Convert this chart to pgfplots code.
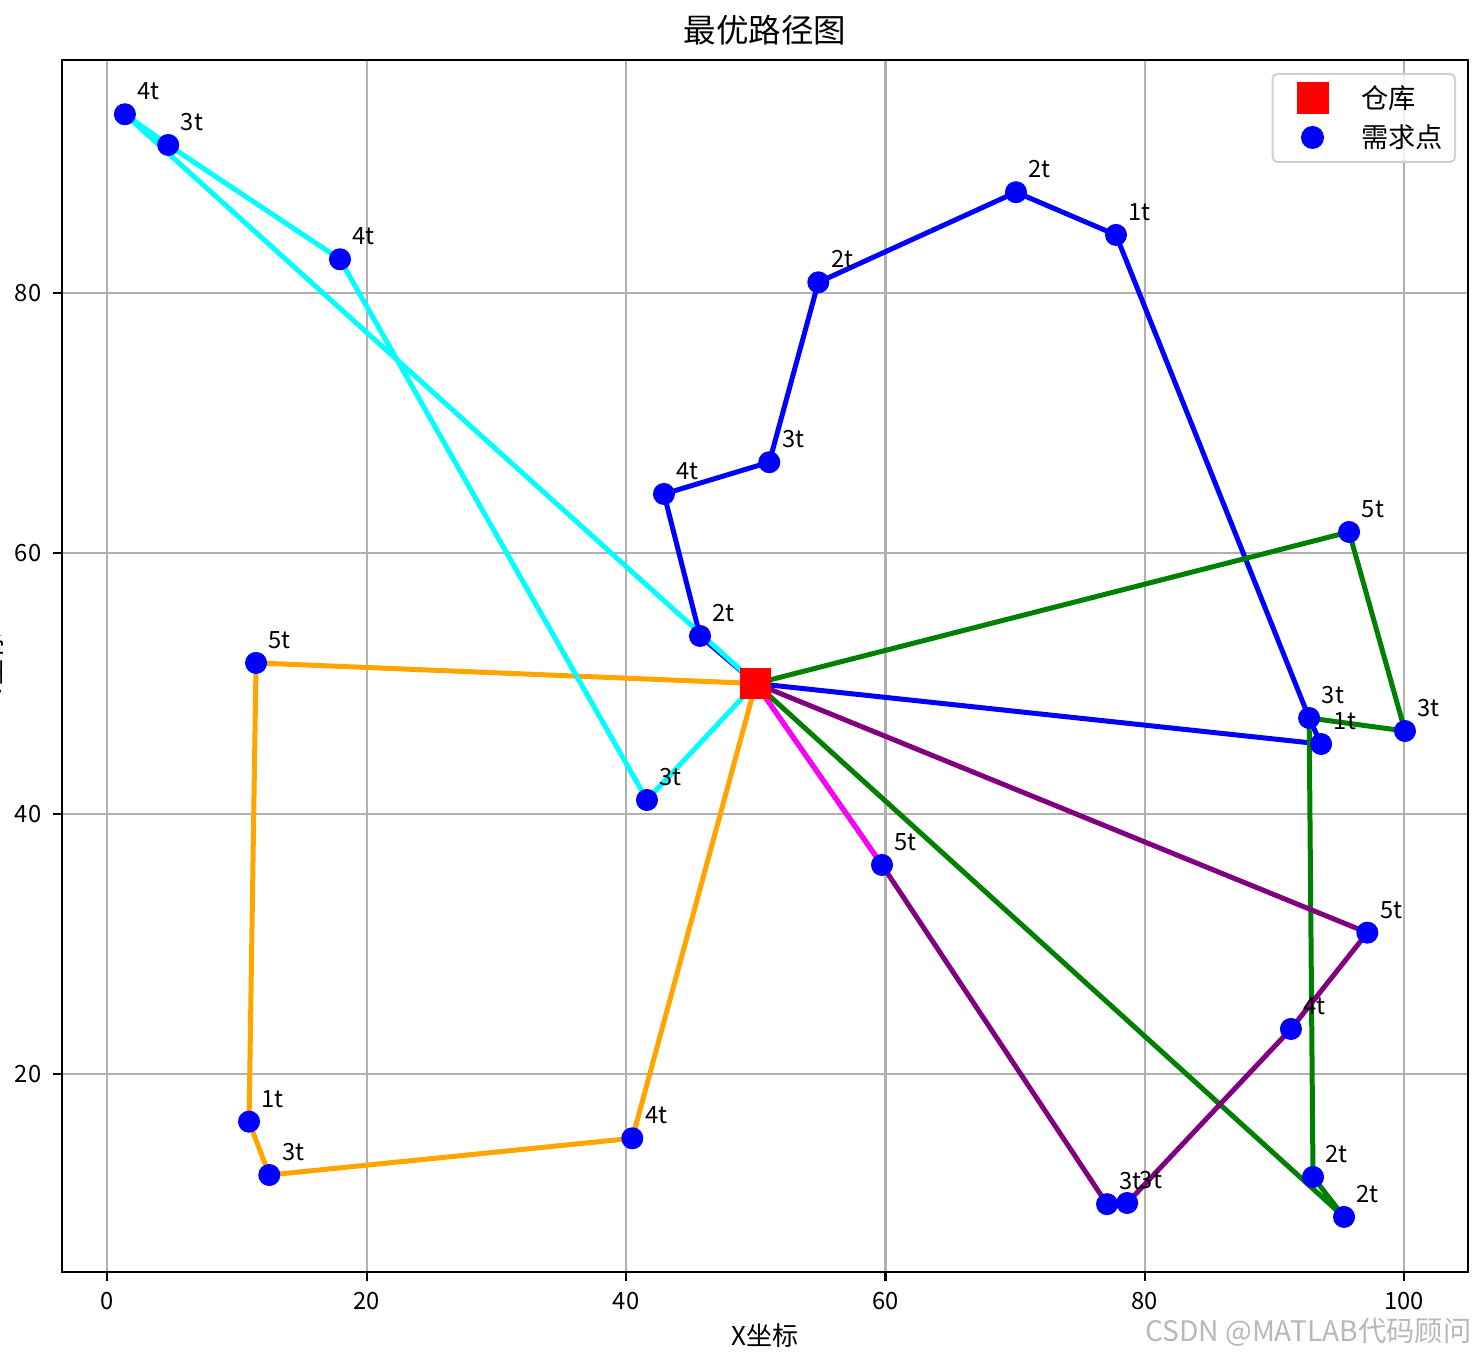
\documentclass[border=0pt]{standalone}
\usepackage{fontspec}
\setmainfont{Noto Sans CJK SC}
\usepackage{pgfplots}
\usepackage{pgfplotstable}
\pgfplotsset{compat=1.18}
\definecolor{mblue}{HTML}{0000FF}
\definecolor{mgreen}{HTML}{008000}
\definecolor{morange}{HTML}{FFA500}
\definecolor{mpurple}{HTML}{800080}
\definecolor{mcyan}{HTML}{00FFFF}
\definecolor{mmagenta}{HTML}{FF00FF}
\definecolor{mred}{HTML}{FF0000}
\definecolor{mgrid}{HTML}{B0B0B0}

\pgfplotstableread{
x y lab
1.36 93.73 4t
4.70 91.37 3t
17.94 82.59 4t
70.06 87.74 2t
77.77 84.46 1t
54.82 80.82 2t
51.04 67.00 3t
42.92 64.56 4t
95.74 61.64 5t
45.70 53.65 2t
11.47 51.58 5t
92.66 47.35 3t
100.05 46.35 3t
93.58 45.35 1t
41.61 41.05 3t
59.73 36.06 5t
97.15 30.86 5t
91.26 23.46 4t
10.93 16.34 1t
12.49 12.24 3t
40.48 15.06 4t
92.96 12.09 2t
95.35 9.02 2t
77.08 10.00 3t
78.63 10.09 3t
}\demand

\begin{document}
\begin{tikzpicture}
\path[use as bounding box] (-24.8pt,-33.6pt) rectangle (565.6pt,508.8pt);
\begin{axis}[
  at={(0,0)}, anchor=south west,
  scale only axis, width=562.4pt, height=484.8pt,
  xmin=-3.49, xmax=104.91, ymin=4.79, ymax=97.9,
  clip=false,
  axis line style={black, line width=0.85pt},
  xtick={0,20,40,60,80,100}, ytick={20,40,60,80},
  xtick pos=bottom, ytick pos=left,
  tick align=outside, major tick length=3.7pt,
  tick style={black, line width=0.85pt},
  grid=major, major grid style={mgrid, line width=0.85pt},
  /pgf/number format/assume math mode=true,
  tick label style={font=\fontsize{9.5}{11}\selectfont},
  xticklabel style={anchor=north, inner sep=0pt, yshift=-4.3pt},
  yticklabel style={anchor=east, inner sep=0pt, xshift=-4.4pt},
  title={最优路径图},
  title style={at={(axis description cs:0.5,1)}, anchor=base, inner sep=0pt, yshift=1pt, font=\fontsize{13}{15}\selectfont},
  xlabel={X坐标},
  xlabel style={at={(axis description cs:0.5,0)}, anchor=center, inner sep=0pt, yshift=-25.6pt, font=\fontsize{10.4}{12}\selectfont},
  ylabel={Y坐标},
  ylabel style={at={(axis description cs:0,0.5)}, anchor=south, inner sep=0pt, yshift=23pt, font=\fontsize{10.4}{12}\selectfont},
  legend cell align=left,
  legend style={at={(axis description cs:1,1)}, anchor=north east, xshift=-4.8pt, yshift=-5.2pt,
    draw=black!18, line width=0.8pt, rounded corners=2pt, fill=white, fill opacity=0.8, text opacity=1,
    inner xsep=4.8pt, inner ysep=2pt, row sep=0pt, column sep=0pt,
    nodes={inner sep=0pt},
    font=\fontsize{10.9}{12.5}\selectfont},
  legend image code/.code={\path[draw=none, fill=none] (-11.2pt,-7.8pt) rectangle (19.5pt,7.8pt); \draw[#1, sharp corners, fill opacity=1, draw opacity=1] plot coordinates {(0pt,0pt)};},
]
\addplot[only marks, mark=square*, mark size=6pt, color=mred, mark options={draw=none, fill=mred}] coordinates {(50,50)};
\addlegendentry{仓库}
\addplot[only marks, mark=*, mark size=4.2pt, color=mblue, mark options={draw=none, fill=mblue}] table[x=x, y=y] {\demand};
\addlegendentry{需求点}

\addplot[forget plot, mblue, line width=2pt, line join=round] coordinates {
(50,50) (45.70,53.65) (42.92,64.56) (51.04,67.00) (54.82,80.82) (70.06,87.74) (77.77,84.46) (92.66,47.35) (93.58,45.35) (50,50)};
\addplot[forget plot, mgreen, line width=2pt, line join=round] coordinates {
(50,50) (95.74,61.64) (100.05,46.35) (92.66,47.35) (92.96,12.09) (95.35,9.02) (50,50)};
\addplot[forget plot, morange, line width=2pt, line join=round] coordinates {
(50,50) (11.47,51.58) (10.93,16.34) (12.49,12.24) (40.48,15.06) (50,50)};
\addplot[forget plot, mpurple, line width=2pt, line join=round] coordinates {
(50,50) (59.73,36.06) (77.08,10.00) (78.63,10.09) (91.26,23.46) (97.15,30.86) (50,50)};
\addplot[forget plot, mcyan, line width=2pt, line join=round] coordinates {
(50,50) (41.61,41.05) (17.94,82.59) (4.70,91.37) (1.36,93.73) (50,50)};
\addplot[forget plot, mmagenta, line width=2pt, line join=round] coordinates {
(50,50) (59.73,36.06) (50,50)};

\addplot[forget plot, only marks, mark=none, nodes near coords, point meta=explicit symbolic,
  nodes near coords style={anchor=base west, inner sep=0pt, xshift=4.9pt, yshift=5.8pt, font=\fontsize{9.5}{11}\selectfont, text=black}]
  table[x=x, y=y, meta=lab] {\demand};

\node[anchor=east, inner sep=0pt, text=black!28, font=\fontsize{11.3}{13}\selectfont] at (axis description cs:1,0) [xshift=1.6pt, yshift=-24pt] {CSDN @MATLAB代码顾问};
\end{axis}
\end{tikzpicture}
\end{document}
